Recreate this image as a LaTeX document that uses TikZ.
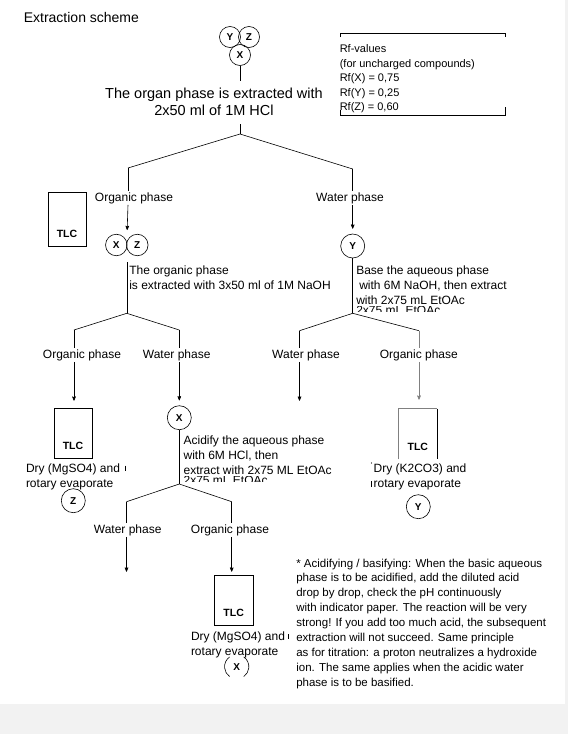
\documentclass[tikz,border=0pt]{standalone}
\usepackage{fontspec}
\setmainfont{Liberation Sans}
\usetikzlibrary{arrows}

\begin{document}
\begin{tikzpicture}[>=stealth',x=1pt,y=-1pt,semithick]
	\tikzstyle{cmpd}=[circle,draw,inner sep=0pt,minimum size=24pt,font=\bfseries\fontsize{10}{12}\selectfont]
	\tikzstyle{phase}=[fill=white,inner sep=1pt,font=\fontsize{12}{14}\selectfont]
	\tikzstyle{instr}=[anchor=base west,align=left,inner sep=0pt,font=\fontsize{12}{15}\selectfont]
	\tikzstyle{tlcbox}=[draw,minimum width=38pt,text height=35pt,text depth=3pt,inner ysep=6pt,inner xsep=0pt,font=\bfseries\fontsize{10.5}{12}\selectfont]

	% page
	\useasboundingbox (0,0) rectangle (568,734);
	\fill[black!5] (0,0) rectangle (568,734);
	\fill[white] (0,0) rectangle (565,704);

	\node[anchor=west,inner sep=0pt,font=\fontsize{14}{16}\selectfont] (title) at (23.5,17.5) {Extraction scheme};

	% start mixture (multi-line texts: base = last line)
	\node[cmpd,minimum size=21pt] (Y0) at (230,37) {Y};
	\node[cmpd,minimum size=21pt] (Z0) at (249,37) {Z};
	\node[cmpd,minimum size=21pt] (X0) at (240,55) {X};
	\node[anchor=base,align=center,inner sep=0pt,font=\fontsize{14.5}{17}\selectfont] (hcl) at (214,115) {The organ phase is extracted with\\2x50 ml of 1M HCl};

	\node[instr,font=\fontsize{11}{14.5}\selectfont] (rf) at (339.5,110.5) {Rf-values\\(for uncharged compounds)\\Rf(X) = 0,75\\Rf(Y) = 0,25\\Rf(Z) = 0,60};
	\draw (340,37) -- (340,33) -- (505.7,33) -- (505.7,37);
	\draw (340,110) -- (340,115) -- (505.7,115) -- (505.7,107);

	\coordinate (hclTop) at (240,81);
	\coordinate (hclBot) at (240,124);
	\coordinate (splitA) at (240,134);
	\coordinate (orgA) at (128,168);
	\coordinate (watA) at (352.7,169);

	% organic phase, HCl step
	\node[phase] (orgAlbl) at (134,198) {Organic phase};
	\node[tlcbox,text height=39pt] (tlcA) at (67,219) {TLC};
	\node[cmpd,minimum size=21.5pt] (X1) at (116.3,245) {X};
	\node[cmpd,minimum size=21.5pt] (Z1) at (137.3,245) {Z};
	\coordinate (XZtop) at (127,235);
	\coordinate (XZbot) at (126.8,262);
	\node[instr] (naoh) at (129,289) {The organic phase\\is extracted with 3x50 ml of 1M NaOH};

	\coordinate (splitB) at (126.8,313.3);
	\coordinate (orgB) at (74,330);
	\coordinate (watB) at (179.3,330);
	\node[phase] (orgBlbl) at (82,355) {Organic phase};
	\node[phase] (watBlbl) at (176.7,355) {Water phase};
	\node[tlcbox] (tlcB) at (73,433) {TLC};
	\node[instr,font=\fontsize{12}{15.5}\selectfont] (dryB) at (25.7,487.5) {Dry (MgSO4) and\\rotary evaporate};
	\node[cmpd] (Z2) at (73.3,500.7) {Z};
	\draw (125,465.5) -- (125,470.5);

	\node[cmpd] (X2) at (179.3,417.7) {X};
	\node[instr] (acid) at (183.3,474) {Acidify the aqueous phase\\with 6M HCl, then\\extract with 2x75 ML EtOAc};
	\begin{scope}
		\clip (180,476.5) rectangle (300,481.7);
		\node[instr] (ghostB) at (183.3,484.7) {2x75 mL EtOAc};
	\end{scope}

	\coordinate (splitC) at (179.3,484);
	\coordinate (watC) at (126.5,501.7);
	\coordinate (orgC) at (231.7,501.7);
	\coordinate (endC) at (126.5,571.7);
	\node[phase] (watClbl) at (127.7,530) {Water phase};
	\node[phase] (orgClbl) at (230,530) {Organic phase};
	\node[tlcbox,minimum width=39pt] (tlcC) at (233.7,600) {TLC};
	\node[instr,font=\fontsize{12}{15}\selectfont] (dryC) at (190.7,655) {Dry (MgSO4) and\\rotary evaporate};
	\draw (288,634) -- (288,639);
	\node[circle,inner sep=0pt,minimum size=24pt,font=\bfseries\fontsize{10}{12}\selectfont] (X3) at (236.7,667) {X};
	\draw (X3.125) arc[start angle=125,end angle=235,radius=12pt];
	\draw (X3.55) arc[start angle=55,end angle=-55,radius=12pt];

	% water phase, HCl step
	\node[phase] (watAlbl) at (350,198) {Water phase};
	\node[cmpd] (Y1) at (352.7,246) {Y};
	\node[instr] (base) at (356,304) {Base the aqueous phase\\\hspace{3pt}with 6M NaOH, then extract\\with 2x75 mL EtOAc};
	\begin{scope}
		\clip (353,306.5) rectangle (450,311.5);
		\node[instr] (ghostA) at (356,314.7) {2x75 mL EtOAc};
	\end{scope}

	\coordinate (splitD) at (352.7,313.3);
	\coordinate (watD) at (299.5,330.7);
	\coordinate (orgD) at (419,330.7);
	\coordinate (endD) at (299.5,400.7);
	\node[phase] (watDlbl) at (306,355) {Water phase};
	\node[phase] (orgDlbl) at (418.8,355) {Organic phase};
	\node[tlcbox,draw=none] (tlcD) at (417.8,434) {TLC};
	\draw[gray] (tlcD.south west) -- (tlcD.north west) -- (tlcD.north east);
	\draw (tlcD.north east) -- (tlcD.south east);
	\node[instr,font=\fontsize{12}{15.5}\selectfont] (dryD) at (373.3,487.5) {Dry (K2CO3) and\\rotary evaporate};
	\fill (371.5,463) circle (0.6pt);
	\draw (371.5,481) -- (371.5,487);
	\node[cmpd] (Y2) at (418.3,506.7) {Y};

	\node[instr,font=\fontsize{11.5}{14.95}\selectfont] (note) at (296,686.6) {* Acidifying / basifying: When the basic aqueous\\phase is to be acidified, add the diluted acid\\drop by drop, check the pH continuously\\with indicator paper. The reaction will be very\\strong! If you add too much acid, the subsequent\\extraction will not succeed. Same principle\\as for titration: a proton neutralizes a hydroxide\\ion. The same applies when the acidic water\\phase is to be basified.};

	% connectors
	\draw (X0.south) -- (hclTop);
	\draw (hclBot) -- (splitA);
	\draw (orgA) -- (splitA) -- (watA);
	\draw (orgA) -- (orgAlbl.north -| orgA);
	\draw[->,shorten >=5pt] (orgAlbl.south -| orgA) -- (XZtop);
	\draw (watA) -- (watAlbl.north -| watA);
	\draw[->,shorten >=5pt] (watAlbl.south -| watA) -- (Y1);

	\draw (XZbot) -- (splitB);
	\draw (orgB) -- (splitB) -- (watB);
	\draw (orgB) -- (orgBlbl.north -| orgB);
	\draw[->,shorten >=7pt] (orgBlbl.south -| orgB) -- (tlcB.north -| orgB);
	\draw (watB) -- (watBlbl.north -| watB);
	\draw[->,shorten >=5pt] (watBlbl.south -| watB) -- (X2);

	\draw (X2) -- (splitC);
	\draw (watC) -- (splitC) -- (orgC);
	\draw (watC) -- (watClbl.north -| watC);
	\draw[->] (watClbl.south -| watC) -- (endC);
	\draw (orgC) -- (orgClbl.north -| orgC);
	\draw[->,shorten >=3pt] (orgClbl.south -| orgC) -- (tlcC.north -| orgC);

	\draw (Y1) -- (splitD);
	\draw (watD) -- (splitD) -- (orgD);
	\draw (watD) -- (watDlbl.north -| watD);
	\draw[->] (watDlbl.south -| watD) -- (endD);
	\draw[gray] (orgD) -- (orgDlbl.north -| orgD);
	\draw[->,gray,shorten >=9pt] (orgDlbl.south -| orgD) -- (tlcD.north -| orgD);
\end{tikzpicture}
\end{document}
